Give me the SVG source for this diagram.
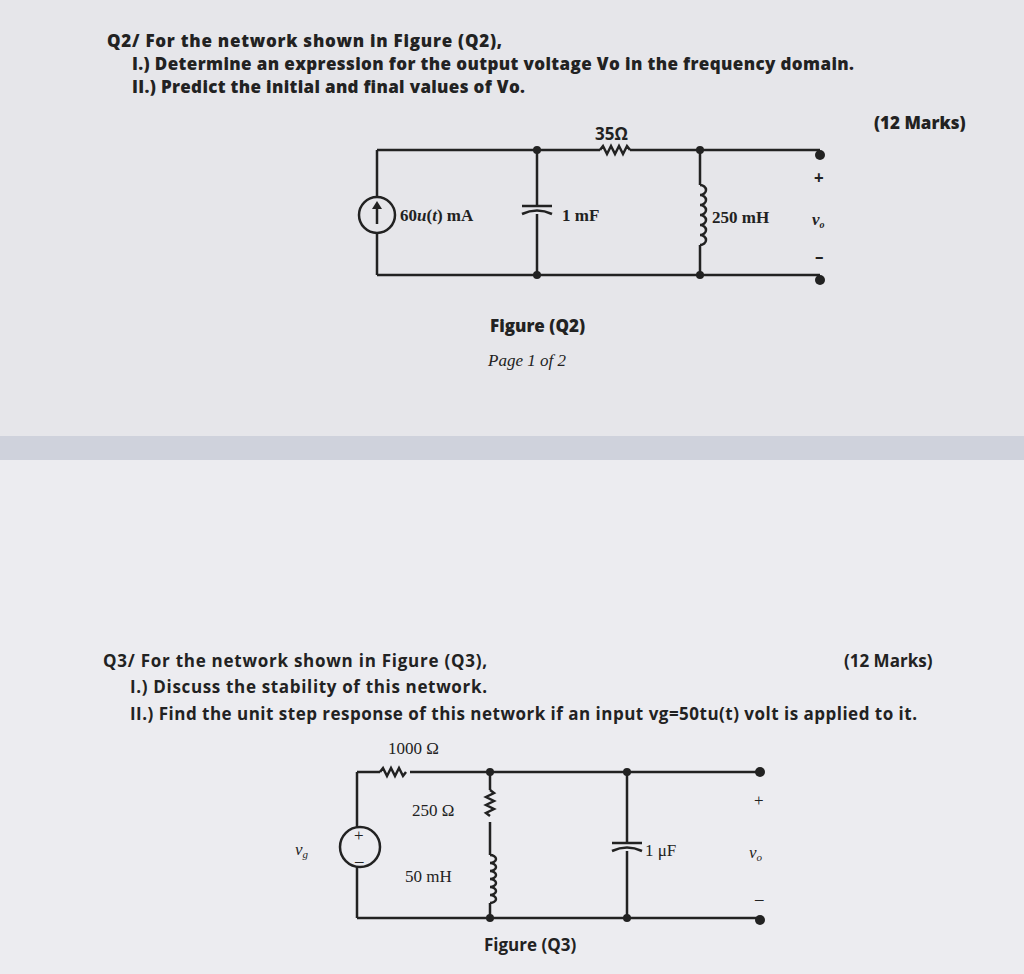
<svg xmlns="http://www.w3.org/2000/svg" width="1024" height="974" viewBox="0 0 1024 974">
<style>
.w{stroke:#222;stroke-width:2.5;fill:none}
.t{font-family:"Open Sans","Liberation Sans",sans-serif;font-weight:800;font-size:17px;fill:#222}
.n{font-family:"Open Sans","Liberation Sans",sans-serif;font-size:17px;fill:#222;font-weight:bold}
.s{font-family:"Liberation Serif",serif;font-size:17px;fill:#222}
.d{fill:#222}
</style>
<rect width="1024" height="974" fill="#cfd2dc"/>
<rect x="0" y="0" width="1024" height="436" fill="#e6e6ea"/>
<rect x="0" y="460" width="1024" height="514" fill="#ececf0"/>
<g id="q2text">
<text class="t" x="107" y="47" textLength="395">Q2/ For the network shown in Figure (Q2),</text>
<text class="t" x="132" y="70" textLength="722">I.) Determine an expression for the output voltage Vo in the frequency domain.</text>
<text class="t" x="132" y="93" textLength="393">II.) Predict the initial and final values of Vo.</text>
<text class="t" x="874" y="129">(12 Marks)</text>
<text class="t" x="490" y="332">Figure (Q2)</text>
<text class="s" x="488" y="366" font-style="italic" font-size="20">Page 1 of 2</text>
</g>
<g id="q2connectors">
<path class="w" d="M377,150H600M630,150H820M377,275H820M377,150V197M377,233V275M537,150V206M537,214V275M700,150V185M700,245V275"/>
<path class="w" d="M600,150l3,-4l4,8l4,-8l4,8l4,-8l4,8l4,-8l3,4" stroke-width="1.5"/>
<path class="w" d="M522,206H552M522,214Q537,207 552,214" stroke-width="2"/>
<path class="w" d="M700,185a6,5 0 0 1 0,10a6,5 0 0 1 0,10a6,5 0 0 1 0,10a6,5 0 0 1 0,10a6,5 0 0 1 0,10a6,5 0 0 1 0,10" stroke-width="1.5"/>
<circle class="w" cx="377" cy="215" r="18"/>
<path class="w" d="M377,224V206" stroke-width="2"/><path class="d" d="M372,209L377,201L382,209Z"/>
<circle class="d" cx="537" cy="150" r="4"/><circle class="d" cx="537" cy="275" r="4"/>
<circle class="d" cx="700" cy="150" r="4"/><circle class="d" cx="700" cy="275" r="4"/>
<circle class="d" cx="820" cy="155" r="5"/><circle class="d" cx="820" cy="280" r="5"/>
</g>
<g id="q2labels">
<text class="n" x="595" y="140">35Ω</text>
<text class="s" x="400" y="221" font-weight="bold">60<tspan font-style="italic">u</tspan>(<tspan font-style="italic">t</tspan>) mA</text>
<text class="s" x="562" y="221" font-weight="bold">1 mF</text>
<text class="s" x="712" y="223" font-weight="bold">250 mH</text>
<text class="s" x="812" y="225" font-style="italic" font-weight="bold" font-size="15">v<tspan font-size="10" dy="3">o</tspan></text>
<text class="n" x="814" y="184">+</text>
<text class="n" x="815" y="263">–</text>
</g>
<g id="q3text">
<text class="n" x="103" y="667" textLength="384">Q3/ For the network shown in Figure (Q3),</text>
<text class="n" x="844" y="667">(12 Marks)</text>
<text class="n" x="130" y="693" textLength="357">I.) Discuss the stability of this network.</text>
<text class="n" x="130" y="720" textLength="787">II.) Find the unit step response of this network if an input vg=50tu(t) volt is applied to it.</text>
<text class="n" x="484" y="951" font-weight="normal">Figure (Q3)</text>
</g>
<g id="q3connectors">
<path class="w" d="M357,772H380M410,772H760M357,918H760M357,772V827M357,867V918M490,772V790M490,822V855M490,903V918M627,772V843M627,851V918"/>
<path class="w" d="M380,772l3,-4l4,8l4,-8l4,8l4,-8l4,8l3,-4" stroke-width="1.5"/>
<path class="w" d="M490,790l4,3l-8,4l8,4l-8,4l8,4l-8,4l4,3" stroke-width="1.5"/>
<path class="w" d="M490,855a6,4 0 0 1 0,8a6,4 0 0 1 0,8a6,4 0 0 1 0,8a6,4 0 0 1 0,8a6,4 0 0 1 0,8a6,4 0 0 1 0,8" stroke-width="1.5"/>
<path class="w" d="M612,843H642M612,851Q627,844 642,851" stroke-width="2"/>
<circle class="w" cx="360" cy="847" r="20"/>
<circle class="d" cx="490" cy="772" r="4"/><circle class="d" cx="490" cy="918" r="4"/>
<circle class="d" cx="627" cy="772" r="4"/><circle class="d" cx="627" cy="918" r="4"/>
<circle class="d" cx="760" cy="772" r="5"/><circle class="d" cx="760" cy="920" r="5"/>
</g>
<g id="q3labels">
<text class="s" x="388" y="754" font-size="20">1000 Ω</text>
<text class="s" x="412" y="816" font-size="20">250 Ω</text>
<text class="s" x="405" y="882" font-size="20">50 mH</text>
<text class="s" x="645" y="856" font-size="20">1 μF</text>
<text class="s" x="295" y="855" font-style="italic">v<tspan font-size="11" dy="3">g</tspan></text>
<text class="s" x="749" y="858" font-style="italic">v<tspan font-size="11" dy="3">o</tspan></text>
<text class="s" x="354" y="841" font-size="16">+</text>
<text class="s" x="355" y="866" font-size="16">–</text>
<text class="s" x="754" y="806" font-size="18">+</text>
<text class="s" x="755" y="904" font-size="18">–</text>
</g>
</svg>
